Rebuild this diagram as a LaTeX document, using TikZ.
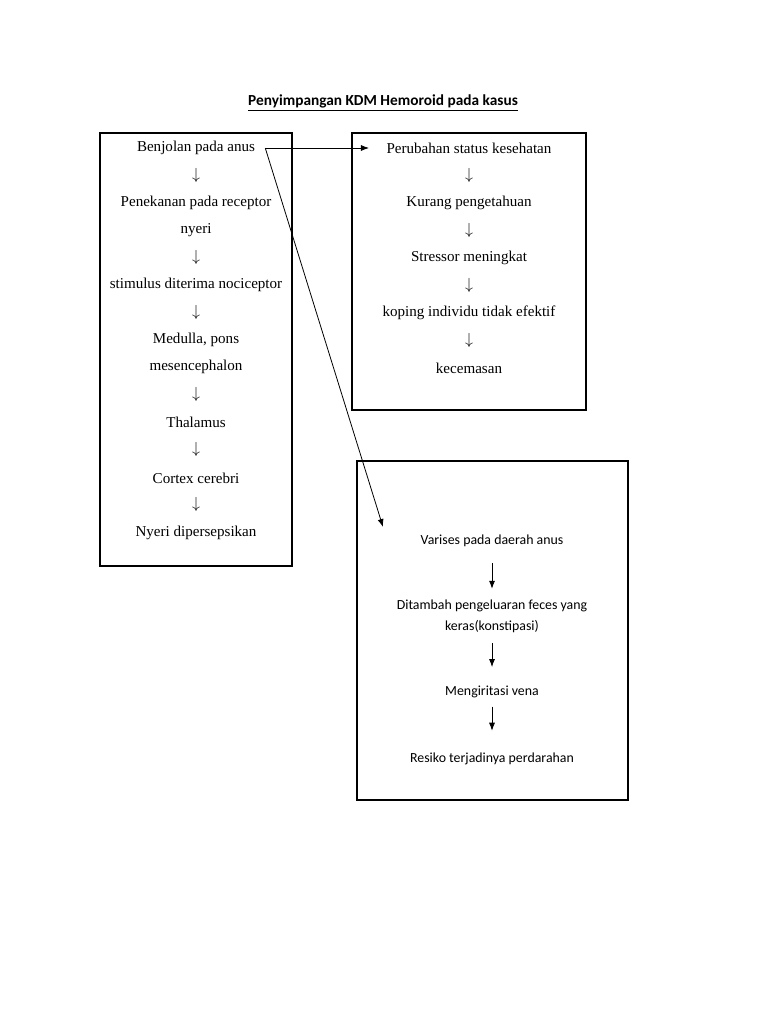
\documentclass[tikz,border=0pt]{standalone}
\usepackage{fontspec}
\setmainfont{Liberation Serif}
\newfontfamily\calibri{Carlito}
\usetikzlibrary{arrows.meta, positioning, calc}

\begin{document}
\begin{tikzpicture}[x=0.75pt, y=-0.75pt,
    frame/.style={rectangle, draw=black, line width=0.8pt},
    serif/.style={inner sep=0pt, font=\fontsize{11.3}{13}\selectfont},
    down/.style={inner sep=0pt, font=\fontsize{12}{13}\selectfont},
    sans/.style={inner sep=0pt, align=center, font=\calibri\fontsize{10.4}{15.5}\selectfont},
    arrow/.style={-{Latex[length=6pt, width=4.5pt]}, line width=0.6pt}
]
\useasboundingbox[fill=white] (0,0) rectangle (768,1024);

\node[inner sep=0pt, font=\calibri\bfseries\fontsize{11.5}{13}\selectfont] (title) at (383,103) {\underline{Penyimpangan KDM Hemoroid pada kasus}};

% frames
\node[frame, minimum width=144pt, minimum height=324.75pt] (leftbox) at (196,349.5) {};
\node[frame, minimum width=175.5pt, minimum height=207.75pt] (topbox) at (469,271.5) {};
\node[frame, minimum width=203.25pt, minimum height=254.25pt] (lowbox) at (492.5,630.5) {};

% left column
\node[serif] (benjolan) at (196,148) {Benjolan pada anus};
\node[serif] (penekanan) at (196,203) {Penekanan pada receptor};
\node[serif] (nyeri) at (196,230) {nyeri};
\node[serif] (stimulus) at (196,285) {stimulus diterima nociceptor};
\node[serif] (medulla) at (196,340) {Medulla, pons};
\node[serif] (mesen) at (196,367) {mesencephalon};
\node[serif] (thalamus) at (196,422) {Thalamus};
\node[serif] (cortex) at (196,478) {Cortex cerebri};
\node[serif] (persepsi) at (196,533) {Nyeri dipersepsikan};
\foreach \y in {175,257,312,394,449,504}
  \node[down] (dl\y) at (196,\y) {$\downarrow$};

% right column
\node[serif] (perubahan) at (469,148) {Perubahan status kesehatan};
\node[serif] (kurang) at (469,203) {Kurang pengetahuan};
\node[serif] (stressor) at (469,258) {Stressor meningkat};
\node[serif] (koping) at (469,313) {koping individu tidak efektif};
\node[serif] (cemas) at (469,368) {kecemasan};
\foreach \y in {175,230,285,340}
  \node[down] (dr\y) at (469,\y) {$\downarrow$};

% lower box
\node[sans] (varises) at (492,541) {Varises pada daerah anus};
\node[sans] (ditambah) at (492,616) {Ditambah pengeluaran feces yang\\keras(konstipasi)};
\node[sans] (iritasi) at (492,692) {Mengiritasi vena};
\node[sans] (resiko) at (492,759) {Resiko terjadinya perdarahan};

\draw[arrow, shorten <=12pt, shorten >=8pt] (varises) -- (ditambah);
\draw[arrow, shorten <=8pt, shorten >=14pt] (ditambah) -- (iritasi);
\draw[arrow, shorten <=6.25pt, shorten >=16.5pt] (iritasi) -- (resiko);

% links from the first item
\coordinate (split) at ($(benjolan.east)+(10,0)$);
\coordinate (varisesin) at (383,527);
\draw[arrow, shorten >=13pt] (split) -- (perubahan.west);
\draw[arrow] (split) -- (varisesin);

\end{tikzpicture}
\end{document}
